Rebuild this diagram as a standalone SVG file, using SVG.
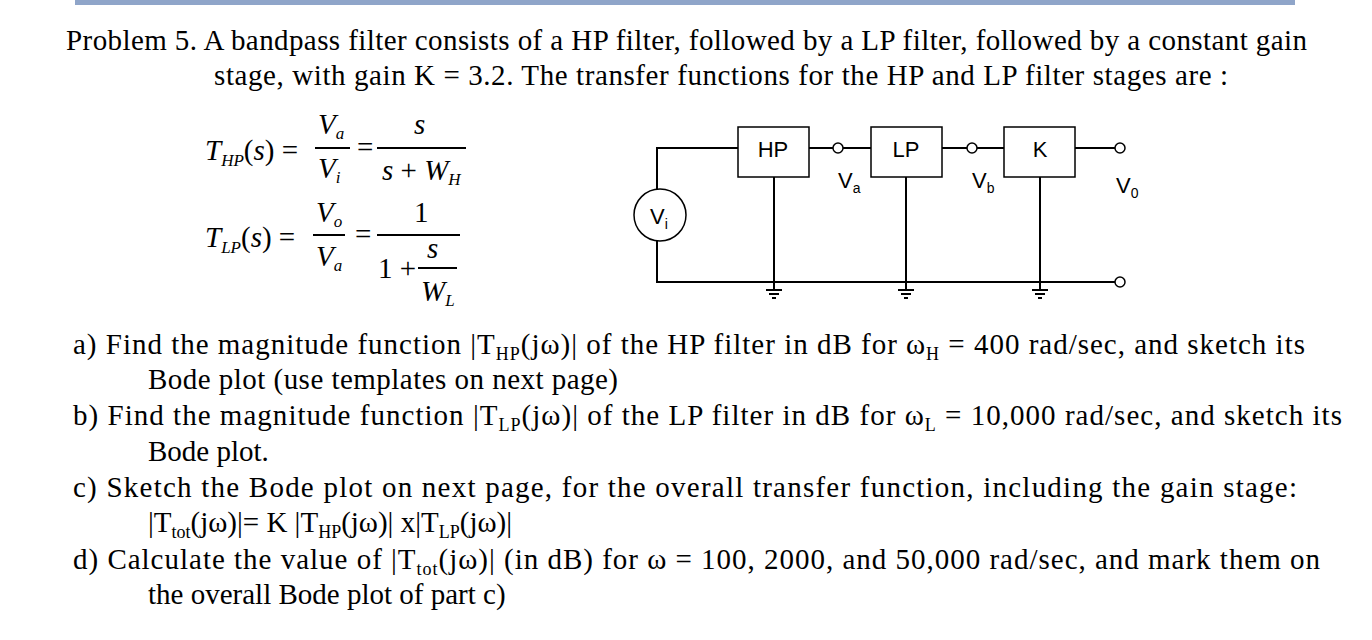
<svg xmlns="http://www.w3.org/2000/svg" width="1372" height="640" viewBox="0 0 1372 640">
<style>
.t{font-family:"Liberation Serif",serif;font-size:29px;fill:#000}
.m{font-family:"Liberation Serif",serif;font-size:29px;font-style:italic;fill:#000}
.ms{font-family:"Liberation Serif",serif;font-size:17px;font-style:italic}
.s{font-family:"Liberation Sans",sans-serif;font-size:22px;fill:#000}
.w{stroke:#000;stroke-width:2;fill:none}
.b{stroke:#000;stroke-width:1.5;fill:#fff}
</style>
<rect width="1372" height="640" fill="#fff"/>
<rect x="75" y="0" width="1220" height="5" fill="#8fa5c9"/>
<text class="t" x="66" y="50" textLength="1241" lengthAdjust="spacing">Problem 5.  A bandpass filter consists of a HP filter, followed by a LP filter, followed by a constant gain</text>
<text class="t" x="214" y="85" textLength="1014" lengthAdjust="spacing">stage, with gain K = 3.2. The transfer functions for the HP and LP filter stages are :</text>
<g id="eq-hp">
<text class="m" x="205" y="160">T<tspan class="ms" dy="6">HP</tspan><tspan dy="-6" font-style="normal">(</tspan>s<tspan font-style="normal">) =</tspan></text>
<text class="m" x="318" y="134">V<tspan class="ms" dy="5">a</tspan></text>
<line class="w" x1="315" y1="148" x2="350" y2="148" stroke-width="1.2"/>
<text class="m" x="318" y="178">V<tspan class="ms" dy="5">i</tspan></text>
<text class="t" x="357" y="157">=</text>
<text class="m" x="414" y="134">s</text>
<line class="w" x1="377" y1="148" x2="466" y2="148" stroke-width="1.2"/>
<text class="m" x="382" y="180">s <tspan font-style="normal">+</tspan> W<tspan class="ms" dy="5">H</tspan></text>
</g>
<g id="eq-lp">
<text class="m" x="205" y="247">T<tspan class="ms" dy="6">LP</tspan><tspan dy="-6" font-style="normal">(</tspan>s<tspan font-style="normal">) =</tspan></text>
<text class="m" x="316" y="222">V<tspan class="ms" dy="5">o</tspan></text>
<line class="w" x1="313" y1="235" x2="345" y2="235" stroke-width="1.2"/>
<text class="m" x="316" y="266">V<tspan class="ms" dy="5">a</tspan></text>
<text class="t" x="355" y="244">=</text>
<text class="t" x="414" y="222">1</text>
<line class="w" x1="377" y1="235" x2="460" y2="235" stroke-width="1.2"/>
<text class="t" x="378" y="278">1 +</text>
<text class="m" x="427" y="258">s</text>
<line class="w" x1="418" y1="268" x2="457" y2="268" stroke-width="1.2"/>
<text class="m" x="421" y="301">W<tspan class="ms" dy="5">L</tspan></text>
</g>
<g id="connectors">
<polyline class="w" points="738,148 657,148 657,189"/>
<polyline class="w" points="657,241 657,282 1115,282"/>
<line class="w" x1="809" y1="148" x2="833" y2="148"/>
<line class="w" x1="843" y1="148" x2="871" y2="148"/>
<line class="w" x1="942" y1="148" x2="967" y2="148"/>
<line class="w" x1="977" y1="148" x2="1004" y2="148"/>
<line class="w" x1="1075" y1="148" x2="1115" y2="148"/>
<line class="w" x1="774" y1="177" x2="774" y2="290"/>
<line class="w" x1="906" y1="177" x2="906" y2="290"/>
<line class="w" x1="1040" y1="177" x2="1040" y2="290"/>
<g class="w"><path d="M766 290h16M769 294h10M772 298h4"/><path d="M898 290h16M901 294h10M904 298h4"/><path d="M1032 290h16M1035 294h10M1038 298h4"/></g>
</g>
<g id="vi"><circle class="b" cx="660" cy="215" r="26"/><text class="s" x="650" y="224">V<tspan font-size="14" dy="5">i</tspan></text></g>
<g id="hp"><rect class="b" x="738" y="127" width="71" height="50"/><text class="s" x="773" y="157" text-anchor="middle">HP</text></g>
<g id="lp"><rect class="b" x="871" y="127" width="71" height="50"/><text class="s" x="906" y="157" text-anchor="middle">LP</text></g>
<g id="k"><rect class="b" x="1004" y="127" width="71" height="50"/><text class="s" x="1040" y="157" text-anchor="middle">K</text></g>
<g id="terminals">
<circle class="b" cx="838" cy="148" r="5"/><circle class="b" cx="972" cy="148" r="5"/><circle class="b" cx="1120" cy="148" r="5"/><circle class="b" cx="1120" cy="282" r="5"/>
<text class="s" x="838" y="188">V<tspan font-size="14" dy="5">a</tspan></text>
<text class="s" x="972" y="188">V<tspan font-size="14" dy="5">b</tspan></text>
<text class="s" x="1116" y="193">V<tspan font-size="14" dy="5">0</tspan></text>
</g>
<text class="t" x="73" y="354" textLength="1232" lengthAdjust="spacing">a)  Find the magnitude function |T<tspan font-size="18" dy="6">HP</tspan><tspan dy="-6">(jω)| of  the HP filter in dB for ω</tspan><tspan font-size="18" dy="6">H</tspan><tspan dy="-6"> = 400 rad/sec, and sketch its</tspan></text>
<text class="t" x="148" y="389" textLength="470" lengthAdjust="spacing">Bode plot (use templates on next page)</text>
<text class="t" x="73" y="425" textLength="1269" lengthAdjust="spacing">b)  Find the magnitude function |T<tspan font-size="18" dy="6">LP</tspan><tspan dy="-6">(jω)| of  the LP filter in dB for ω</tspan><tspan font-size="18" dy="6">L</tspan><tspan dy="-6"> = 10,000 rad/sec,  and sketch its</tspan></text>
<text class="t" x="148" y="461">Bode plot.</text>
<text class="t" x="73" y="497" textLength="1224" lengthAdjust="spacing">c)  Sketch the Bode plot on next page, for the overall transfer function, including the gain stage:</text>
<text class="t" x="148" y="532">|T<tspan font-size="18" dy="6">tot</tspan><tspan dy="-6">(jω)|= K |T</tspan><tspan font-size="18" dy="6">HP</tspan><tspan dy="-6">(jω)| x|T</tspan><tspan font-size="18" dy="6">LP</tspan><tspan dy="-6">(jω)|</tspan></text>
<text class="t" x="73" y="569" textLength="1247" lengthAdjust="spacing">d)  Calculate the value of |T<tspan font-size="18" dy="6">tot</tspan><tspan dy="-6">(jω)| (in dB)  for ω = 100, 2000, and 50,000 rad/sec, and mark them on</tspan></text>
<text class="t" x="148" y="604">the overall Bode plot of part c)</text>
</svg>
